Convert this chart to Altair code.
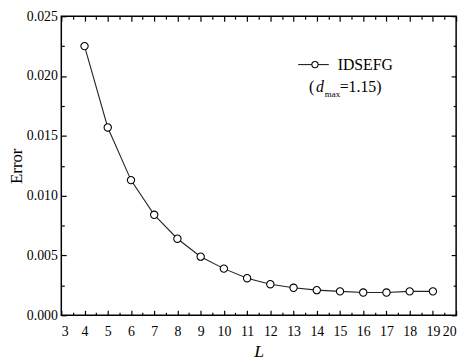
import altair as alt
import pandas as pd

# ---- data ----
L_values = list(range(4, 20))
errors = [0.0225, 0.0157, 0.0113, 0.0084, 0.0064, 0.0049, 0.0039, 0.0031,
          0.0026, 0.0023, 0.0021, 0.0020, 0.0019, 0.0019, 0.0020, 0.0020]
x_major = list(range(3, 21))
x_minor = [v + 0.5 for v in range(3, 20)]
y_major = [0.0, 0.005, 0.010, 0.015, 0.020, 0.025]
y_minor = [0.0025, 0.0075, 0.0125, 0.0175, 0.0225]

df = pd.DataFrame({"L": L_values, "Error": errors})
FONT = "Liberation Serif"
W, H = 400, 303

xs = alt.Scale(domain=[3, 20], nice=False, zero=False)
ys = alt.Scale(domain=[0, 0.025], nice=False)


def tick_axis(orient, values, size, **kw):
    return alt.Axis(orient=orient, values=values, offset=-size, tickSize=size,
                    domain=False, grid=False, tickColor="black", tickWidth=1.2,
                    **kw)


def axis_layer(x_axis, y_axis):
    return alt.Chart(df).mark_point(opacity=0).encode(
        x=alt.X("L:Q", scale=xs, axis=x_axis),
        y=alt.Y("Error:Q", scale=ys, axis=y_axis),
    )


no_lab = dict(labels=False, title=None)

bottom_major = tick_axis("bottom", x_major, 5, labelFont=FONT, labelFontSize=14,
                         labelColor="black", labelPadding=9, format="d",
                         title="L", titleFont=FONT, titleFontSize=18,
                         titleFontStyle="italic", titleFontWeight="normal",
                         titleColor="black", titlePadding=5)
left_major = tick_axis("left", y_major, 5, labelFont=FONT, labelFontSize=14,
                       labelColor="black", labelPadding=4, format=".3f",
                       title="Error", titleFont=FONT, titleFontSize=17,
                       titleFontWeight="normal", titleColor="black",
                       titlePadding=1)

layers = [
    axis_layer(bottom_major, left_major),
    axis_layer(tick_axis("bottom", x_minor, 3, **no_lab),
               tick_axis("left", y_minor, 3, **no_lab)),
    axis_layer(tick_axis("top", x_major, 5, **no_lab),
               tick_axis("right", y_major, 5, **no_lab)),
    axis_layer(tick_axis("top", x_minor, 3, **no_lab),
               tick_axis("right", y_minor, 3, **no_lab)),
]

line = alt.Chart(df).mark_line(color="#222222", strokeWidth=1.1).encode(
    x=alt.X("L:Q", scale=xs, axis=None),
    y=alt.Y("Error:Q", scale=ys, axis=None),
)
pts = alt.Chart(df).mark_point(shape="circle", filled=True, fill="white",
                               stroke="black", strokeWidth=1.1, size=55,
                               opacity=1).encode(
    x=alt.X("L:Q", scale=xs, axis=None),
    y=alt.Y("Error:Q", scale=ys, axis=None),
)

# ---- legend (drawn manually) ----
one = pd.DataFrame({"k": [0]})
leg_line = alt.Chart(one).mark_rule(color="#222222", strokeWidth=1.1).encode(
    x=alt.value(240), x2=alt.value(271), y=alt.value(49))
leg_pt = alt.Chart(one).mark_point(shape="circle", filled=True, fill="white",
                                   stroke="black", strokeWidth=1.1, size=40,
                                   opacity=1).encode(
    x=alt.value(257), y=alt.value(49))
leg_txt = alt.Chart(one).mark_text(font=FONT, fontSize=16, align="left",
                                   baseline="middle", color="black").encode(
    x=alt.value(280), y=alt.value(50), text=alt.value("IDSEFG"))
t1 = alt.Chart(one).mark_text(font=FONT, fontSize=16, align="left",
                              baseline="middle", color="black").encode(
    x=alt.value(251), y=alt.value(72), text=alt.value("("))
t2 = alt.Chart(one).mark_text(font=FONT, fontSize=16, align="left",
                              baseline="middle", fontStyle="italic",
                              color="black").encode(
    x=alt.value(258), y=alt.value(72), text=alt.value("d"))
t3 = alt.Chart(one).mark_text(font=FONT, fontSize=9, align="left",
                              baseline="middle", color="black").encode(
    x=alt.value(267), y=alt.value(79), text=alt.value("max"))
t4 = alt.Chart(one).mark_text(font=FONT, fontSize=16, align="left",
                              baseline="middle", color="black").encode(
    x=alt.value(282), y=alt.value(72), text=alt.value("=1.15)"))

chart = alt.layer(
    *layers, line, pts, leg_line, leg_pt, leg_txt, t1, t2, t3, t4
).resolve_axis(x="independent", y="independent").properties(
    width=W, height=H,
    background="white",
    autosize=alt.AutoSizeParams(type="none"),
    padding={"left": 54, "top": 6, "right": 10, "bottom": 44},
).configure_view(stroke="black", strokeWidth=1.5)

chart.save("out.html", embed_options={"renderer": "svg", "actions": False})
